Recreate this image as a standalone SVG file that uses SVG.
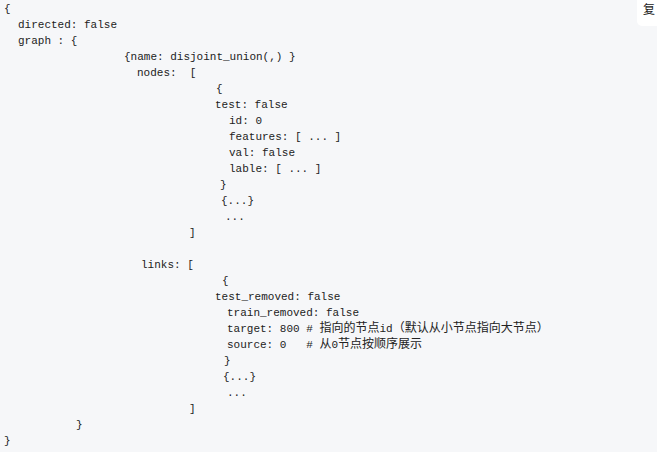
<svg xmlns="http://www.w3.org/2000/svg" width="657" height="452" viewBox="0 0 657 452">
<style>
text{font-family:"Liberation Mono","DejaVu Sans Mono","Noto Sans CJK SC",monospace;font-size:11px;fill:#222;white-space:pre}
.cn{font-size:12px}
</style>
<rect width="657" height="452" fill="#f6f7f9"/>
<g id="copy"><rect x="637" y="-4" width="30" height="30" rx="5" fill="#fff"/><text x="643" y="14" style="font-family:'Noto Sans CJK SC',sans-serif;font-size:12px">复</text></g>
<g id="code" xml:space="preserve">
<text x="4" y="12">{</text>
<text x="18" y="28">directed: false</text>
<text x="18" y="44">graph : {</text>
<text x="124" y="60">{name: disjoint_union(,) }</text>
<text x="137" y="76">nodes:  [</text>
<text x="216" y="92">{</text>
<text x="215" y="108">test: false</text>
<text x="229" y="124">id: 0</text>
<text x="229" y="140">features: [ ... ]</text>
<text x="229" y="156">val: false</text>
<text x="229" y="172">lable: [ ... ]</text>
<text x="220" y="188">}</text>
<text x="221" y="204">{...}</text>
<text x="225" y="220">...</text>
<text x="189" y="236">]</text>
<text x="141" y="268">links: [</text>
<text x="222" y="284">{</text>
<text x="215" y="300">test_removed: false</text>
<text x="227" y="316">train_removed: false</text>
<text x="227" y="332">target: 800 # <tspan class="cn">指向的节点</tspan>id<tspan class="cn">（默认从小节点指向大节点）</tspan></text>
<text x="227" y="348">source: 0   # <tspan class="cn">从</tspan>0<tspan class="cn">节点按顺序展示</tspan></text>
<text x="224" y="364">}</text>
<text x="223" y="380">{...}</text>
<text x="227" y="396">...</text>
<text x="189" y="412">]</text>
<text x="76" y="428">}</text>
<text x="4" y="444">}</text>
</g>
</svg>
